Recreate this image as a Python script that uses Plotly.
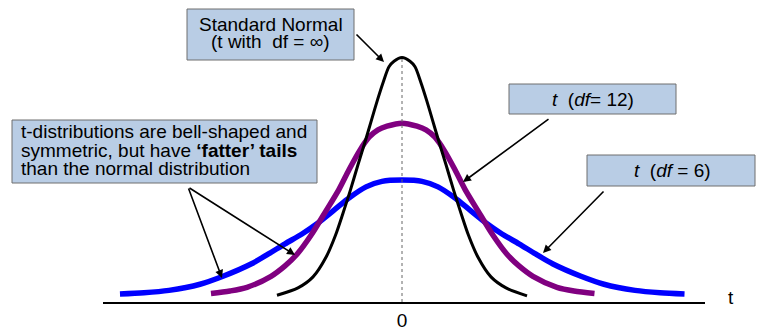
import plotly.graph_objects as go

# ---- data (t on x, density-like height on y) ----
normal_t = [-1.786, -1.486, -1.271, -1.086, -0.950, -0.843, -0.736, -0.629, -0.521, -0.436, -0.350, -0.271, -0.186, -0.114, 0.0,
            0.114, 0.186, 0.271, 0.350, 0.436, 0.521, 0.629, 0.736, 0.843, 0.950, 1.086, 1.271, 1.486, 1.786]
normal_d = [0.011, 0.023, 0.041, 0.073, 0.109, 0.145, 0.183, 0.224, 0.264, 0.297, 0.330, 0.358, 0.384, 0.393, 0.399,
            0.393, 0.384, 0.358, 0.330, 0.297, 0.264, 0.224, 0.183, 0.145, 0.109, 0.073, 0.041, 0.023, 0.010]

t12_t = [-2.729, -2.457, -2.214, -1.871, -1.671, -1.500, -1.300, -1.079, -0.900, -0.757, -0.600, -0.471, -0.343, -0.214, 0.0,
         0.214, 0.343, 0.471, 0.600, 0.757, 0.900, 1.079, 1.300, 1.500, 1.671, 1.871, 2.214, 2.457, 2.750]
t12_d = [0.014, 0.018, 0.024, 0.042, 0.059, 0.078, 0.109, 0.150, 0.184, 0.216, 0.248, 0.269, 0.281, 0.287, 0.292,
         0.287, 0.281, 0.269, 0.248, 0.216, 0.184, 0.150, 0.109, 0.078, 0.059, 0.042, 0.024, 0.018, 0.014]

t6_t = [-4.029, -3.686, -3.329, -2.886, -2.557, -2.157, -1.914, -1.671, -1.429, -1.200, -0.971, -0.743, -0.514, -0.286, 0.0,
        0.286, 0.514, 0.743, 0.971, 1.200, 1.429, 1.671, 1.914, 2.157, 2.557, 2.886, 3.329, 3.686, 4.036]
t6_d = [0.013, 0.015, 0.019, 0.029, 0.042, 0.062, 0.078, 0.095, 0.111, 0.129, 0.150, 0.171, 0.188, 0.197, 0.199,
        0.197, 0.188, 0.171, 0.150, 0.129, 0.111, 0.095, 0.078, 0.062, 0.042, 0.029, 0.019, 0.015, 0.013]

tick_vals = [0]
tick_text = ["0"]

W, H = 768, 329
FONT = "Liberation Sans, Arial, sans-serif"
BOX_FILL = "#B9CDE5"
BOX_LINE = "#6F6F6F"


def px(x):
    return x / W


def py(y):
    return 1 - y / H


fig = go.Figure()
fig.add_trace(go.Scatter(x=t6_t, y=t6_d, mode="lines", line=dict(color="#0000FF", width=5.5, shape="spline", smoothing=0.8),
                         hoverinfo="skip"))
fig.add_trace(go.Scatter(x=t12_t, y=t12_d, mode="lines", line=dict(color="#800080", width=5.5, shape="spline", smoothing=0.8),
                         hoverinfo="skip"))
fig.add_trace(go.Scatter(x=normal_t, y=normal_d, mode="lines", line=dict(color="#000000", width=3, shape="spline", smoothing=0.8),
                         hoverinfo="skip"))

shapes = [
    dict(type="line", xref="x", yref="y", x0=0, x1=0, y0=0, y1=0.399, line=dict(color="#666666", width=1, dash="dot"), layer="above"),
    dict(type="rect", xref="paper", yref="paper", x0=px(187), x1=px(354), y0=py(60), y1=py(9),
         fillcolor=BOX_FILL, line=dict(color=BOX_LINE, width=1)),
    dict(type="rect", xref="paper", yref="paper", x0=px(12), x1=px(317), y0=py(183), y1=py(120),
         fillcolor=BOX_FILL, line=dict(color=BOX_LINE, width=1)),
    dict(type="rect", xref="paper", yref="paper", x0=px(509), x1=px(676), y0=py(114), y1=py(84),
         fillcolor=BOX_FILL, line=dict(color=BOX_LINE, width=1)),
    dict(type="rect", xref="paper", yref="paper", x0=px(587), x1=px(755), y0=py(186), y1=py(155),
         fillcolor=BOX_FILL, line=dict(color=BOX_LINE, width=1)),
]

annotations = []


def text(x, y, s, xanchor="center", size=19):
    annotations.append(dict(xref="paper", yref="paper", x=px(x), y=py(y), text=s, showarrow=False,
                            xanchor=xanchor, yanchor="middle", font=dict(family=FONT, size=size, color="#000000")))


def arrow(x0, y0, x1, y1):
    annotations.append(dict(xref="paper", yref="paper", x=px(x1), y=py(y1), ax=x0 - x1, ay=y0 - y1,
                            axref="pixel", ayref="pixel", text="", showarrow=True,
                            arrowhead=2, arrowsize=1, arrowwidth=1.6, arrowcolor="#000000"))


text(270.5, 24.5, "Standard Normal")
text(270.5, 41, "(t with\u00a0 df = \u221e)")
text(19, 131, "t-distributions are bell-shaped and", xanchor="left")
text(19, 150, "symmetric, but have <b>\u2018fatter\u2019 tails</b>", xanchor="left")
text(19, 168, "than the normal distribution", xanchor="left")
text(593, 99.5, "<i>t</i>\u00a0 (<i>df</i>= 12)")
text(672, 170.5, "<i>t</i>\u00a0 (<i>df</i> = 6)")
text(731, 297, "t")

arrow(355, 33, 384, 62)
arrow(550, 118, 463, 182)
arrow(605, 190, 543, 253)
arrow(188, 187, 222, 278)
arrow(188, 187, 295, 255)

x_lo = (103 - 402) / 70
x_hi = (705 - 402) / 70
y_hi = 302 / 612.5

fig.update_layout(
    width=W, height=H, margin=dict(l=0, r=0, t=0, b=0),
    paper_bgcolor="white", plot_bgcolor="white", showlegend=False,
    shapes=shapes, annotations=annotations,
    xaxis=dict(domain=[px(103), px(705)], range=[x_lo, x_hi], showgrid=False, zeroline=False,
               showline=True, linecolor="#000000", linewidth=2, ticks="",
               tickvals=tick_vals, ticktext=tick_text, tickfont=dict(family=FONT, size=19, color="#000000"),
               automargin=False, fixedrange=True),
    yaxis=dict(domain=[py(302), 1], range=[0, y_hi], visible=False, showgrid=False, zeroline=False,
               automargin=False, fixedrange=True),
)

fig.write_html("out.html")
